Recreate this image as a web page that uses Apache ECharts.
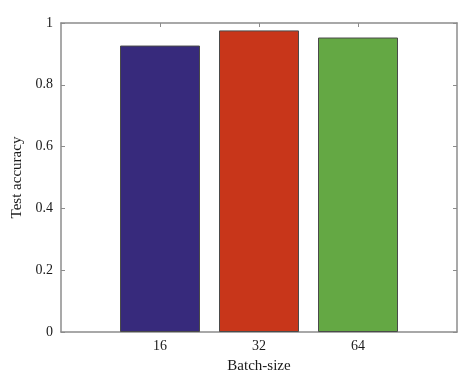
<!DOCTYPE html>
<html><head><meta charset="utf-8">
<script src="https://cdn.jsdelivr.net/npm/echarts@6/dist/echarts.min.js"></script>
<style>html,body{margin:0;padding:0;background:#fff}#c{width:474px;height:387px}</style>
</head><body><div id="c"></div>
<script>
const categories = ['', '16', '32', '64', ''];
const accuracy = [null, 0.927, 0.976, 0.953, null];
const barColors = ['#372a7c', '#372a7c', '#c8361a', '#64a844', '#64a844'];
const yTicks = [0, 0.2, 0.4, 0.6, 0.8, 1];

const font = 'Liberation Serif';
const frame = '#8c8c8c';
const chart = echarts.init(document.getElementById('c'));
const tickShow = (i) => i >= 1 && i <= 3;
const xBase = {
  type: 'category', data: categories, boundaryGap: false,
  axisLine: { show: true, onZero: false, lineStyle: { color: frame, width: 1.5 } },
  axisTick: { show: true, inside: true, length: 4, interval: (i) => tickShow(i), lineStyle: { color: frame } },
  splitLine: { show: false }
};
const yBase = {
  type: 'value', min: 0, max: 1, interval: 0.2,
  axisLine: { show: true, onZero: false, lineStyle: { color: frame, width: 1.5 } },
  axisTick: { show: true, inside: true, length: 4, lineStyle: { color: frame } },
  splitLine: { show: false }
};
chart.setOption({
  animation: false,
  grid: { left: 61, right: 17, top: 23, bottom: 55 },
  xAxis: [
    Object.assign({}, xBase, {
      position: 'bottom', name: 'Batch-size', nameLocation: 'middle', nameGap: 27,
      nameTextStyle: { fontFamily: font, fontSize: 15, color: '#1a1a1a' },
      axisLabel: { fontFamily: font, fontSize: 14, color: '#1a1a1a', margin: 7, interval: 0 }
    }),
    Object.assign({}, xBase, { position: 'top', axisLabel: { show: false } })
  ],
  yAxis: [
    Object.assign({}, yBase, {
      position: 'left', name: 'Test accuracy', nameLocation: 'middle', nameGap: 35,
      nameTextStyle: { fontFamily: font, fontSize: 15, color: '#1a1a1a' },
      axisLabel: { fontFamily: font, fontSize: 14, color: '#1a1a1a', margin: 8,
        formatter: (v) => yTicks.includes(+v.toFixed(1)) ? String(+v.toFixed(1)) : '' }
    }),
    Object.assign({}, yBase, { position: 'right', axisLabel: { show: false } })
  ],
  series: [{
    type: 'bar', xAxisIndex: 0, yAxisIndex: 0, barWidth: 80,
    data: accuracy.map((v, i) => ({ value: v, itemStyle: { color: barColors[i] } })),
    itemStyle: { borderColor: '#4a4a4a', borderWidth: 1 }
  }]
});
</script></body></html>
